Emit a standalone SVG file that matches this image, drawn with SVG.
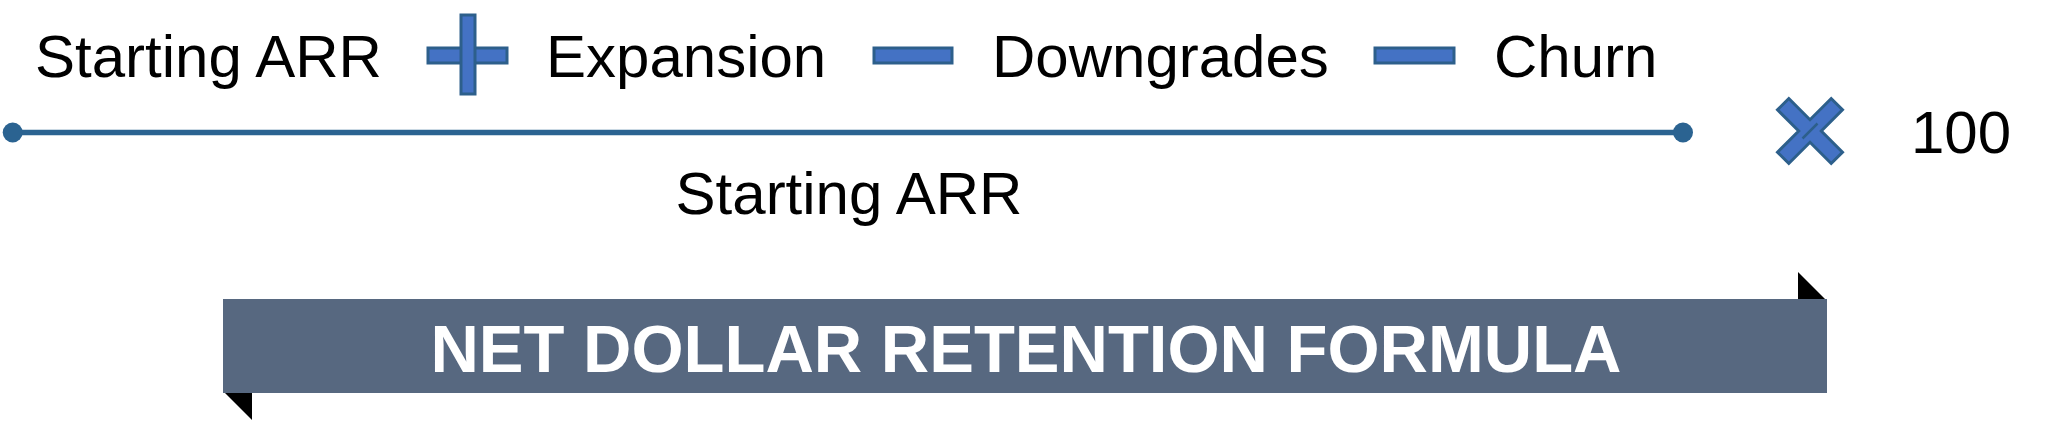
<svg xmlns="http://www.w3.org/2000/svg" width="2048" height="427" viewBox="0 0 2048 427">
  <style>
    .t { font-family: "Liberation Sans", Arial, sans-serif; font-size: 60px; fill: #000000; }
    .op { fill: #4472C4; stroke: #2D5F8B; stroke-width: 3; }
    .title { font-family: "Liberation Sans", Arial, sans-serif; font-size: 67px; font-weight: bold; fill: #FFFFFF; }
  </style>
  <rect x="0" y="0" width="2048" height="427" fill="#FFFFFF"/>

  <g id="term-starting-arr">
    <text class="t" x="35" y="77">Starting ARR</text>
  </g>
  <g id="op-plus">
    <rect class="op" x="428" y="48" width="79" height="15"/>
    <rect class="op" x="461" y="15" width="14" height="79"/>
  </g>
  <g id="term-expansion">
    <text class="t" x="546" y="77">Expansion</text>
  </g>
  <g id="op-minus-1">
    <rect class="op" x="874" y="48" width="78" height="15"/>
  </g>
  <g id="term-downgrades">
    <text class="t" x="992" y="77">Downgrades</text>
  </g>
  <g id="op-minus-2">
    <rect class="op" x="1375" y="48" width="79" height="15"/>
  </g>
  <g id="term-churn">
    <text class="t" x="1494" y="77">Churn</text>
  </g>

  <g id="connectors">
    <line x1="12.7" y1="132.5" x2="1683" y2="132.5" stroke="#2B6391" stroke-width="5.5"/>
    <circle cx="12.7" cy="132.5" r="10" fill="#2B6391"/>
    <circle cx="1683" cy="132.5" r="10" fill="#2B6391"/>
  </g>

  <g id="denominator">
    <text class="t" x="849" y="214" text-anchor="middle">Starting ARR</text>
  </g>

  <g id="op-times">
    <polygon class="op" points="1788.8,98.5 1810,119.7 1831.2,98.5 1842.5,109.8 1821.3,131 1842.5,152.2 1831.2,163.5 1810,142.3 1788.8,163.5 1777.5,152.2 1798.7,131 1777.5,109.8"/>
    <line x1="1817.5" y1="123.5" x2="1802.5" y2="138.5" stroke="#2D5F8B" stroke-width="2.5"/>
  </g>
  <g id="term-100">
    <text class="t" x="1911" y="153">100</text>
  </g>

  <g id="banner">
    <polygon points="1798,272 1798,299 1825,299" fill="#000000"/>
    <polygon points="225,393 252,393 252,420" fill="#000000"/>
    <rect x="223" y="299" width="1604" height="94" fill="#576880"/>
    <text class="title" x="1026" y="372" text-anchor="middle">NET DOLLAR RETENTION FORMULA</text>
  </g>
</svg>
